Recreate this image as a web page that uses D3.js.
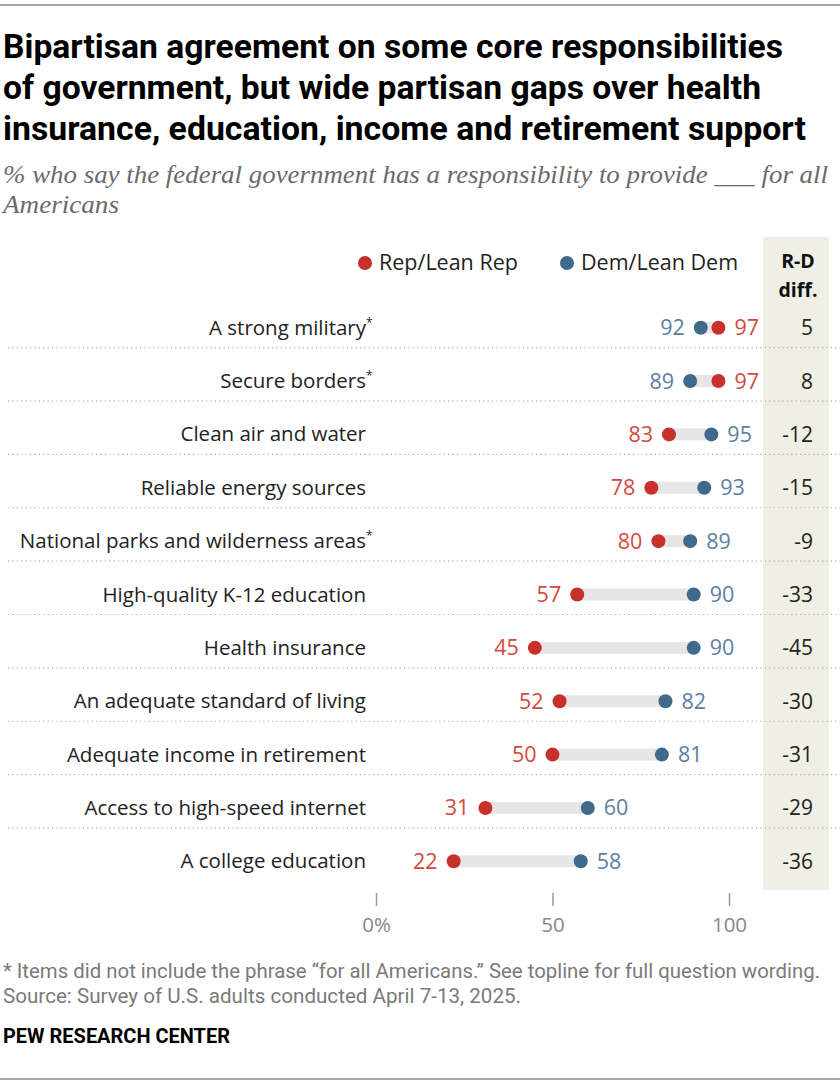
<!DOCTYPE html>
<html>
<head>
<meta charset="utf-8">
<script src="https://cdn.jsdelivr.net/npm/d3@7"></script>
<style>
  body { margin: 0; background: #fff; }
  svg { display: block; }
</style>
</head>
<body>
<div id="chart"></div>
<script>
// chart data
const items = ['A strong military', 'Secure borders', 'Clean air and water', 'Reliable energy sources',
               'National parks and wilderness areas', 'High-quality K-12 education', 'Health insurance',
               'An adequate standard of living', 'Adequate income in retirement',
               'Access to high-speed internet', 'A college education'];
const starred = [true, true, false, false, true, false, false, false, false, false, false];
const repValues = [97, 97, 83, 78, 80, 57, 45, 52, 50, 31, 22];
const demValues = [92, 89, 95, 93, 89, 90, 90, 82, 81, 60, 58];
const diffValues = [5, 8, -12, -15, -9, -33, -45, -30, -31, -29, -36];
const tickValues = [0, 50, 100];
const tickLabels = ['0%', '50', '100'];

const width = 840, height = 1084;
const red = '#c8302b', redText = '#d24a40';
const blue = '#3f6a8b', blueText = '#5b80a1';
const sans = '"Open Sans", "Noto Sans", sans-serif';
const head = 'Roboto, "Liberation Sans", sans-serif';

const svg = d3.select('#chart').append('svg')
    .attr('width', width)
    .attr('height', height);

// top & bottom rules
svg.append('line').attr('x1', 0).attr('x2', width).attr('y1', 5).attr('y2', 5)
    .attr('stroke', '#888').attr('stroke-width', 1.5);
svg.append('line').attr('x1', 0).attr('x2', width).attr('y1', 1079).attr('y2', 1079)
    .attr('stroke', '#888').attr('stroke-width', 1.5);

// title
const titleLines = ['Bipartisan agreement on some core responsibilities',
                    'of government, but wide partisan gaps over health',
                    'insurance, education, income and retirement support'];
const titleWidths = [780, 758, 803];
svg.append('g').selectAll('text')
    .data(titleLines)
    .enter()
    .append('text')
    .attr('x', 3)
    .attr('y', (d, i) => 58 + i * 41)
    .attr('textLength', (d, i) => titleWidths[i])
    .attr('lengthAdjust', 'spacingAndGlyphs')
    .style('font-family', head)
    .style('font-weight', 'bold')
    .style('font-size', '32.5px')
    .attr('fill', '#000')
    .text(d => d);

const subLines = ['% who say the federal government has a responsibility to provide ___ for all', 'Americans'];
const subWidths = [825, 116];
svg.append('g').selectAll('text')
    .data(subLines)
    .enter()
    .append('text')
    .attr('x', 3)
    .attr('y', (d, i) => 183 + i * 30)
    .attr('textLength', (d, i) => subWidths[i])
    .attr('lengthAdjust', 'spacingAndGlyphs')
    .style('font-family', '"Liberation Serif", "DejaVu Serif", serif')
    .style('font-style', 'italic')
    .style('font-size', '24.5px')
    .attr('fill', '#6b6b6b')
    .text(d => d);

// scales
const x = d3.scaleLinear().domain([0, 100]).range([376, 729]);
const y = d3.scaleBand().domain(items).range([301, 888]);
const cy = d => y(d) + y.bandwidth() / 2;

// diff column background
svg.append('rect')
    .attr('x', 763).attr('y', 237)
    .attr('width', 66).attr('height', 653)
    .attr('fill', '#efefe5');

// legend
const legend = [{label: 'Rep/Lean Rep', color: red, x: 365}, {label: 'Dem/Lean Dem', color: blue, x: 567}];
const lg = svg.append('g').selectAll('g').data(legend).enter().append('g');
lg.append('circle').attr('cx', d => d.x).attr('cy', 263).attr('r', 7).attr('fill', d => d.color);
lg.append('text').attr('x', d => d.x + 14).attr('y', 270)
    .style('font-family', sans).style('font-size', '21.5px').attr('fill', '#222')
    .text(d => d.label);

svg.append('g').selectAll('text')
    .data(['R-D', 'diff.'])
    .enter()
    .append('text')
    .attr('x', 798)
    .attr('y', (d, i) => 268 + i * 29)
    .style('font-family', sans).style('font-weight', 'bold').style('font-size', '19.5px')
    .style('text-anchor', 'middle').attr('fill', '#111')
    .text(d => d);

// dotted separators, sitting just under each row
svg.append('g').selectAll('line')
    .data(items.slice(0, -1))
    .enter()
    .append('line')
    .attr('x1', 8).attr('x2', width)
    .attr('y1', d => cy(d) + 20)
    .attr('y2', d => cy(d) + 20)
    .attr('stroke', '#aaa').attr('stroke-width', 1.2)
    .attr('stroke-dasharray', '1.2,3.2');

const rows = items.map((d, i) => ({item: d, star: starred[i], rep: repValues[i], dem: demValues[i], diff: diffValues[i]}));

// category labels
svg.append('g').selectAll('text')
    .data(rows)
    .enter()
    .append('text')
    .attr('x', 366)
    .attr('y', d => cy(d.item) + 7)
    .style('font-family', sans).style('font-size', '20.5px')
    .style('text-anchor', 'end').attr('fill', '#222')
    .text(d => d.item);
svg.append('g').selectAll('text')
    .data(rows.filter(d => d.star))
    .enter()
    .append('text')
    .attr('x', 366)
    .attr('y', d => cy(d.item) - 1)
    .style('font-family', sans).style('font-size', '12px').attr('fill', '#222')
    .text('*');

// connecting bars
svg.append('g').selectAll('rect')
    .data(rows)
    .enter()
    .append('rect')
    .attr('x', d => x(Math.min(d.rep, d.dem)))
    .attr('y', d => cy(d.item) - 6)
    .attr('width', d => Math.abs(x(d.rep) - x(d.dem)))
    .attr('height', 12)
    .attr('fill', '#e6e6e6');

// dots
const dots = svg.append('g');
dots.selectAll('.dem').data(rows).enter().append('circle').classed('dem', true)
    .attr('cx', d => x(d.dem)).attr('cy', d => cy(d.item)).attr('r', 7).attr('fill', blue);
dots.selectAll('.rep').data(rows).enter().append('circle').classed('rep', true)
    .attr('cx', d => x(d.rep)).attr('cy', d => cy(d.item)).attr('r', 7).attr('fill', red);

// value labels
const vl = svg.append('g');
vl.selectAll('.rep-label').data(rows).enter().append('text').classed('rep-label', true)
    .attr('x', d => d.rep >= d.dem ? x(d.rep) + 16 : x(d.rep) - 16)
    .attr('y', d => cy(d.item) + 7.5)
    .style('text-anchor', d => d.rep >= d.dem ? 'start' : 'end')
    .style('font-family', sans).style('font-size', '21.5px').attr('fill', redText)
    .text(d => d.rep);
vl.selectAll('.dem-label').data(rows).enter().append('text').classed('dem-label', true)
    .attr('x', d => d.dem > d.rep ? x(d.dem) + 16 : x(d.dem) - 16)
    .attr('y', d => cy(d.item) + 7.5)
    .style('text-anchor', d => d.dem > d.rep ? 'start' : 'end')
    .style('font-family', sans).style('font-size', '21.5px').attr('fill', blueText)
    .text(d => d.dem);

// diff values
svg.append('g').selectAll('text')
    .data(rows)
    .enter()
    .append('text')
    .attr('x', 813)
    .attr('y', d => cy(d.item) + 7.5)
    .style('text-anchor', 'end')
    .style('font-family', sans).style('font-size', '21px').attr('fill', '#222')
    .text(d => d.diff);

// x axis
const xAxis = d3.axisBottom(x)
    .tickValues(tickValues)
    .tickSize(13)
    .tickPadding(11)
    .tickFormat((d, i) => tickLabels[i]);
const ax = svg.append('g')
    .attr('transform', 'translate(0,893)')
    .call(xAxis);
ax.select('.domain').remove();
ax.selectAll('line').attr('stroke', '#999').attr('stroke-width', 1.5);
ax.selectAll('text')
    .style('font-family', sans).style('font-size', '20.5px').attr('fill', '#888');

// footnotes
const notes = ['* Items did not include the phrase \u201cfor all Americans.\u201d See topline for full question wording.',
               'Source: Survey of U.S. adults conducted April 7-13, 2025.'];
const noteWidths = [817, 518];
svg.append('g').selectAll('text')
    .data(notes)
    .enter()
    .append('text')
    .attr('x', 3)
    .attr('y', (d, i) => 978 + i * 25)
    .attr('textLength', (d, i) => noteWidths[i])
    .attr('lengthAdjust', 'spacingAndGlyphs')
    .style('font-family', head).style('font-size', '20px').attr('fill', '#7a7a7a')
    .text(d => d);

svg.append('text')
    .attr('x', 3).attr('y', 1043)
    .attr('textLength', 227)
    .attr('lengthAdjust', 'spacingAndGlyphs')
    .style('font-family', head).style('font-weight', 'bold').style('font-size', '19.5px')
    .attr('fill', '#000')
    .text('PEW RESEARCH CENTER');
</script>
</body>
</html>
